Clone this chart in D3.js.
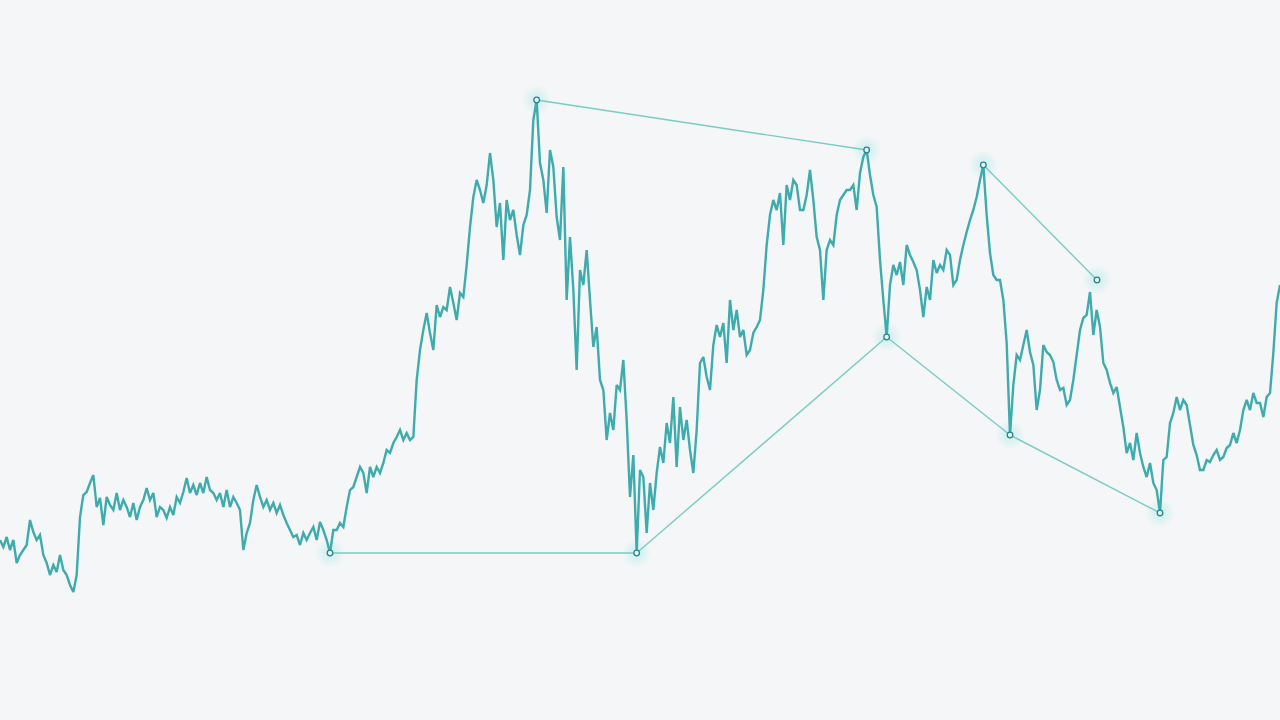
<!DOCTYPE html>
<html>
<head>
<meta charset="utf-8">
<script src="https://cdn.jsdelivr.net/npm/d3@7"></script>
<style>
  html, body { margin: 0; padding: 0; background: #f5f6f7; }
  svg { display: block; }
</style>
</head>
<body>
<svg id="chart" width="1280" height="720"></svg>
<script>
// Price series (one reading per time step)
const prices = [
  160,153,163,150,160,137,145,150,155,180,
  168,160,165,145,137,125,135,128,145,130,
  125,115,108,125,183,205,208,217,225,193,
  202,175,203,195,190,207,190,200,193,183,
  197,180,193,200,212,200,207,183,193,190,
  182,193,185,203,197,
  208,222,207,215,205,
  217,207,223,210,207,200,207,193,210,193,
  203,197,190,150,167,177,200,215,203,193,
  200,190,197,187,195,185,177,170,163,165,
  155,167,160,167,173,160,178,170,160,147,
  170,170,177,173,193,210,
  213,223,233,227,
  207,233,223,233,227,237,250,247,257,263,
  270,260,267,260,263,320,350,370,387,367,
  350,395,383,393,390,413,397,380,407,403,
  435,473,503,520,510,497,515,547,520,473,
  497,440,500,480,490,465,445,475,485,510,
  580,600,537,520,487,550,533,483,460,533,
  400,463,410,330,430,415,450,400,353,373,
  320,310,260,287,270,315,310,340,280,203,
  245,147,230,223,167,217,190,227,253,237,
  277,257,303,233,293,260,280,250,227,270,
  337,343,323,310,355,375,363,377,337,400,
  370,390,363,370,345,350,367,373,380,410,
  455,485,500,490,507,455,515,500,520,515,
  490,490,505,530,500,463,450,400,450,460,
  455,485,500,505,510,510,515,490,527,543,
  550,525,505,493,440,400,363,415,435,425,
  438,415,455,445,438,430,410,383,413,400,
  440,427,435,430,450,445,415,420,440,455,
  468,480,490,503,520,535,485,447,425,420,
  420,400,357,265,315,345,340,355,370,348,
  335,290,310,355,348,345,338,320,310,312,
  295,300,320,345,370,382,385,408,365,390,
  373,337,330,317,307,313,293,273,247,257,
  240,267,247,233,223,237,217,210,187,240,
  243,277,287,303,290,300,295,275,255,245,
  230,230,240,238,245,250,240,243,252,255,
  267,257,270,290,300,290,307,297,297,283,
  303,307,347,397,415
];

// Trend lines: start/end (time index, price)
const trendStartIdx   = [99, 191, 161, 266, 303, 295];
const trendStartPrice = [147, 147, 600, 363, 265, 535];
const trendEndIdx     = [191, 266, 260, 303, 348, 329.1];
const trendEndPrice   = [147, 363, 550, 265, 187, 420];

const W = 1280, H = 720;
const svg = d3.select("#chart");

const x = d3.scaleLinear().domain([0, prices.length - 1]).range([0, 1280]);
const y = d3.scaleLinear().domain([0, 700]).range([700, 0]);

const defs = svg.append("defs");
const grad = defs.append("radialGradient").attr("id", "halo");
grad.append("stop").attr("offset", "0%").attr("stop-color", "#9be6e6").attr("stop-opacity", 0.5);
grad.append("stop").attr("offset", "100%").attr("stop-color", "#9be6e6").attr("stop-opacity", 0);

svg.append("rect").attr("width", W).attr("height", H).attr("fill", "#f5f6f7");

const pts = [];
trendStartIdx.forEach((s, i) => {
  pts.push([s, trendStartPrice[i]]);
  pts.push([trendEndIdx[i], trendEndPrice[i]]);
});
const uniq = [];
pts.forEach(p => { if (!uniq.some(q => q[0] === p[0] && q[1] === p[1])) uniq.push(p); });

// halos
svg.append("g").selectAll("circle").data(uniq).join("circle")
  .attr("cx", d => x(d[0])).attr("cy", d => y(d[1]))
  .attr("r", 15).attr("fill", "url(#halo)");

// trend lines
svg.append("g").selectAll("line").data(trendStartIdx).join("line")
  .attr("x1", d => x(d))
  .attr("y1", (d, i) => y(trendStartPrice[i]))
  .attr("x2", (d, i) => x(trendEndIdx[i]))
  .attr("y2", (d, i) => y(trendEndPrice[i]))
  .attr("stroke", "#6cc6c0")
  .attr("stroke-width", 1.4)
  .attr("stroke-opacity", 0.9);

// price line
const line = d3.line().x((d, i) => x(i)).y(d => y(d));
svg.append("path").datum(prices)
  .attr("d", line)
  .attr("fill", "none")
  .attr("stroke", "#3eabad")
  .attr("stroke-width", 2.4)
  .attr("stroke-linejoin", "miter")
  .attr("stroke-miterlimit", 3);

// pivot markers
svg.append("g").selectAll("circle").data(uniq).join("circle")
  .attr("cx", d => x(d[0])).attr("cy", d => y(d[1]))
  .attr("r", 2.8)
  .attr("fill", "#e3f5f4")
  .attr("stroke", "#2c8689")
  .attr("stroke-width", 1.3);
</script>
</body>
</html>
